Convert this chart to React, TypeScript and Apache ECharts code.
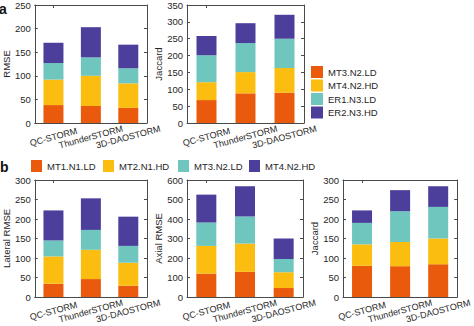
import React, { useEffect, useRef } from "react";
import * as echarts from "echarts";

const categories = ["QC-STORM", "ThunderSTORM", "3D-DAOSTORM"];

const namesA = ["MT3.N2.LD", "MT4.N2.HD", "ER1.N3.LD", "ER2.N3.HD"];
const namesB = ["MT1.N1.LD", "MT2.N1.HD", "MT3.N2.LD", "MT4.N2.HD"];

// panel a: RMSE (segments per series across categories)
const rmseA = [
  [38, 36, 32],
  [54, 64, 52],
  [35, 39, 32],
  [43, 64, 50],
];
// panel a: Jaccard
const jaccardA = [
  [68, 88, 90],
  [53, 63, 73],
  [80, 86, 87],
  [57, 59, 71],
];
// panel b: Lateral RMSE
const lateralB = [
  [34, 46, 29],
  [70, 75, 59],
  [41, 51, 43],
  [77, 81, 75],
];
// panel b: Axial RMSE
const axialB = [
  [120, 129, 46],
  [142, 145, 81],
  [120, 139, 68],
  [143, 155, 105],
];
// panel b: Jaccard
const jaccardB = [
  [80, 79, 84],
  [55, 62, 66],
  [55, 79, 81],
  [32, 54, 53],
];

const colors = ["#E95A0C", "#FBBE10", "#6EC6BE", "#4B3F9B"];

const FONT = "'Liberation Sans', Arial, Helvetica, sans-serif";
const AXIS = "#4a4a4a";
const TXT = "#262626";

function buildPanel(
  idx: number,
  box: { left: number; top: number; width: number; height: number },
  max: number,
  interval: number,
  yName: string,
  nameGap: number,
  values: number[][],
  names: string[]
) {
  const grid = { left: box.left, top: box.top, width: box.width, height: box.height, containLabel: false };
  const tick = { show: true, inside: true, length: 3, lineStyle: { color: AXIS, width: 1 } };
  const line = { show: true, onZero: false, lineStyle: { color: AXIS, width: 1 } };
  const xAxes = [
    {
      type: "category",
      gridIndex: idx,
      data: categories,
      position: "bottom",
      axisLine: line,
      axisTick: { ...tick, alignWithLabel: true },
      axisLabel: {
        interval: 0,
        rotate: 15,
        align: "center",
        verticalAlign: "middle",
        margin: 14,
        fontSize: 9,
        fontFamily: FONT,
        color: TXT,
        hideOverlap: false,
      },
      splitLine: { show: false },
    },
    {
      type: "category",
      gridIndex: idx,
      data: categories,
      position: "top",
      axisLine: line,
      axisTick: { ...tick, alignWithLabel: true },
      axisLabel: { show: false },
      splitLine: { show: false },
    },
  ];
  const yAxes = [
    {
      type: "value",
      gridIndex: idx,
      min: 0,
      max,
      interval,
      position: "left",
      name: yName,
      nameLocation: "middle",
      nameGap,
      nameTextStyle: { fontSize: 9.5, fontFamily: FONT, color: TXT },
      axisLine: line,
      axisTick: tick,
      axisLabel: { margin: 4, fontSize: 9.5, fontFamily: FONT, color: TXT },
      splitLine: { show: false },
    },
    {
      type: "value",
      gridIndex: idx,
      min: 0,
      max,
      interval,
      position: "right",
      axisLine: line,
      axisTick: tick,
      axisLabel: { show: false },
      splitLine: { show: false },
    },
  ];
  const series = values.map((v, s) => ({
    type: "bar",
    name: names[s],
    stack: "p" + idx,
    xAxisIndex: idx * 2,
    yAxisIndex: idx * 2,
    barWidth: 20,
    data: v,
    itemStyle: { color: colors[s] },
  }));
  return { grid, xAxes, yAxes, series };
}

export default function App() {
  const ref = useRef<HTMLDivElement>(null);
  useEffect(() => {
    if (!ref.current) return;
    const chart = echarts.init(ref.current, undefined, { renderer: "svg" });
    const panels = [
      buildPanel(0, { left: 31, top: 5, width: 116, height: 118 }, 250, 50, "RMSE", 20, rmseA, namesA),
      buildPanel(1, { left: 187, top: 5, width: 117, height: 118 }, 350, 50, "Jaccard", 19, jaccardA, namesA),
      buildPanel(2, { left: 31, top: 180, width: 116, height: 117 }, 300, 50, "Lateral RMSE", 20, lateralB, namesB),
      buildPanel(3, { left: 187, top: 180, width: 116, height: 117 }, 600, 100, "Axial RMSE", 16, axialB, namesB),
      buildPanel(4, { left: 343, top: 180, width: 116, height: 117 }, 300, 50, "Jaccard", 16, jaccardB, namesB),
    ];
    const legendText = { fontSize: 9.5, fontFamily: FONT, color: TXT };
    const legendBLefts = [31, 103, 178, 249];
    const legends: any[] = [
      {
        orient: "vertical",
        left: 311,
        top: 66,
        padding: 0,
        itemWidth: 12,
        itemHeight: 12,
        itemGap: 1.5,
        icon: "rect",
        selectedMode: false,
        textStyle: legendText,
        data: namesA.map((n, i) => ({ name: n, itemStyle: { color: colors[i] } })),
      },
      ...namesB.map((n, i) => ({
        orient: "horizontal",
        left: legendBLefts[i],
        top: 160,
        padding: 0,
        itemWidth: 11,
        itemHeight: 12,
        icon: "rect",
        selectedMode: false,
        textStyle: legendText,
        data: [{ name: n, itemStyle: { color: colors[i] } }],
      })),
    ];
    chart.setOption({
      animation: false,
      backgroundColor: "#ffffff",
      textStyle: { fontFamily: FONT },
      grid: panels.map((p) => p.grid),
      xAxis: panels.flatMap((p) => p.xAxes),
      yAxis: panels.flatMap((p) => p.yAxes),
      series: panels.flatMap((p) => p.series),
      legend: legends,
      graphic: [
        {
          type: "text",
          left: -1,
          top: 2,
          style: { text: "a", fontSize: 14, fontWeight: "bold", fontFamily: FONT, fill: "#111" },
        },
        {
          type: "text",
          left: 0,
          top: 160,
          style: { text: "b", fontSize: 14, fontWeight: "bold", fontFamily: FONT, fill: "#111" },
        },
      ],
    } as any);
    return () => chart.dispose();
  }, []);
  return (
    <div
      ref={ref}
      style={{ position: "fixed", left: 0, top: 0, width: 474, height: 326, background: "#fff" }}
    />
  );
}
